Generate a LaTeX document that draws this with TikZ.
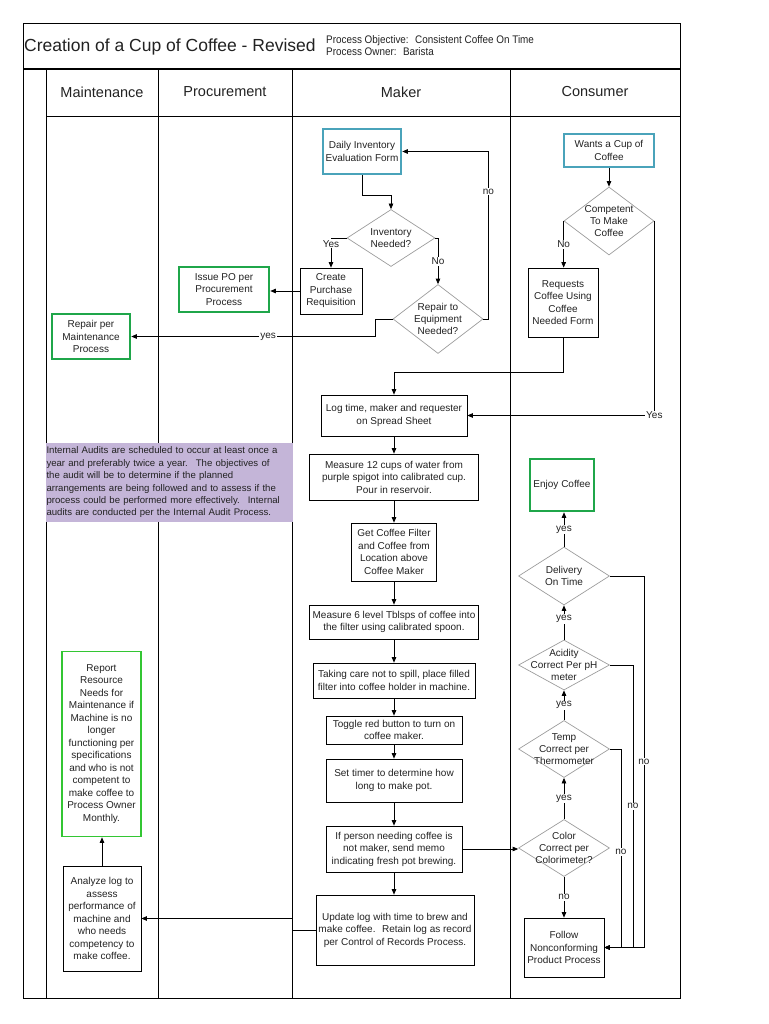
\documentclass[tikz,border=0pt]{standalone}
\usepackage{fontspec}
\setmainfont{Liberation Sans}
\newfontfamily\narrowfont[FakeStretch=0.9]{Liberation Sans}
\usetikzlibrary{arrows.meta,shapes.geometric}
\definecolor{tealline}{HTML}{4AA3BA}
\definecolor{greenline}{HTML}{1FA64A}
\definecolor{limeline}{HTML}{33C633}
\definecolor{auditfill}{HTML}{C4B5D8}
\definecolor{diagray}{HTML}{9C9C9C}
\definecolor{inkgray}{HTML}{222222}

\begin{document}
\begin{tikzpicture}[x=1pt,y=1pt]
              \tikzstyle{every node}+=[inner sep=0pt, text=inkgray]
              \tikzstyle{box}=[draw=black, line width=0.7pt, align=center, font=\fontsize{10}{12.5}\selectfont]
              \tikzstyle{tealbox}=[box, draw=tealline, line width=2.6pt]
              \tikzstyle{greenbox}=[box, draw=greenline, line width=2.6pt]
              \tikzstyle{limebox}=[box, draw=limeline, line width=1.6pt]
              \tikzstyle{dia}=[diamond, draw=diagray, line width=0.7pt, aspect=1.6]
              \tikzstyle{diatext}=[align=center, font=\fontsize{10}{12}\selectfont]
              \tikzstyle{arr}=[-{Triangle[length=5.5pt,width=4.5pt]}, black, line width=0.7pt]
              \tikzstyle{lbl}=[fill=white, inner sep=1pt, font=\fontsize{10}{12}\selectfont]
              \useasboundingbox (0,0) rectangle (768,-1024);
              % frame and lanes
              \draw [black, line width=0.8pt] (23,-23) rectangle (680,-998);
              \draw [black, line width=1.8pt] (23,-69) -- (680,-69);
              \draw [black, line width=0.8pt] (46,-116) -- (680,-116);
              \foreach \lx in {46,158,292,510}
                \draw [black, line width=0.8pt] (\lx,-69) -- (\lx,-998);
              \node [anchor=west, font=\fontsize{17.5}{20}\selectfont] (title) at (24,-46.5) {Creation of a Cup of Coffee - Revised};
              \node [anchor=west, align=left, font=\narrowfont\fontsize{11}{12}\selectfont] (objective) at (326,-46) {Process Objective:~ Consistent Coffee On Time\\Process Owner:~ Barista};
              \foreach \lname/\lx in {Maintenance/102, Procurement/225, Maker/401, Consumer/595}
                \node [font=\fontsize{14.5}{16}\selectfont] (head-\lname) at (\lx,-92) {\lname};
              % maker lane, top
              \node [tealbox, minimum width=78, minimum height=45] (daily) at (362,-151.5) {Daily Inventory\\Evaluation Form};
              \node [dia, minimum width=88, minimum height=57, label={[diatext]center:Inventory\\Needed?}] (inv) at (391,-238) {};
              \node [box, minimum width=62, minimum height=46] (creq) at (331,-291) {Create\\Purchase\\Requisition};
              \node [dia, minimum width=90, minimum height=69, label={[diatext]center:Repair to\\Equipment\\Needed?}] (rep) at (438,-319) {};
              \node [greenbox, minimum width=90, minimum height=45] (issue) at (224,-289.5) {Issue PO per\\Procurement\\Process};
              \node [greenbox, minimum width=78, minimum height=45] (rmaint) at (91,-336.5) {Repair per\\Maintenance\\Process};
              % consumer lane, top
              \node [tealbox, minimum width=90, minimum height=33] (wants) at (609,-150.5) {Wants a Cup of\\Coffee};
              \node [dia, minimum width=90, minimum height=68, label={[diatext]center:Competent\\To Make\\Coffee}] (comp) at (609,-221) {};
              \node [box, minimum width=70, minimum height=69] (req) at (563,-302.5) {Requests\\Coffee Using\\Coffee\\Needed Form};
              % maker lane, steps
              \node [box, minimum width=146, minimum height=41] (log) at (394,-415.5) {Log time, maker and requester\\on Spread Sheet};
              \node [box, minimum width=169, minimum height=46] (m12) at (394,-477) {Measure 12 cups of water from\\purple spigot into calibrated cup.\\Pour in reservoir.};
              \node [box, minimum width=85, minimum height=58] (filter) at (394,-552) {Get Coffee Filter\\and Coffee from\\Location above\\Coffee Maker};
              \node [box, minimum width=169, minimum height=34] (m6) at (394,-622) {Measure 6 level Tblsps of coffee into\\the filter using calibrated spoon.};
              \node [box, minimum width=162, minimum height=35] (care) at (394,-680.5) {Taking care not to spill, place filled\\filter into coffee holder in machine.};
              \node [box, minimum width=136, minimum height=28] (toggle) at (394,-730) {Toggle red button to turn on\\coffee maker.};
              \node [box, minimum width=136, minimum height=43] (timer) at (394,-780.5) {Set timer to determine how\\long to make pot.};
              \node [box, minimum width=136, minimum height=46] (memo) at (394,-849) {If person needing coffee is\\not maker, send memo\\indicating fresh pot brewing.};
              \node [box, minimum width=158, minimum height=70] (upd) at (395,-930) {Update log with time to brew and\\make coffee.~ Retain log as record\\per Control of Records Process.};
              % maintenance lane, bottom
              \node [fill=auditfill, align=left, text width=246, minimum height=79, inner sep=0.5pt, font=\fontsize{9.6}{12.4}\selectfont] (audit) at (169.5,-482.5) {\hyphenpenalty=10000 Internal Audits are scheduled to occur at least once a\\year and preferably twice a year.~ The objectives of\\the audit will be to determine if the planned\\arrangements are being followed and to assess if the\\process could be performed more effectively.~ Internal\\audits are conducted per the Internal Audit Process.};
              \node [limebox, minimum width=79, minimum height=185] (report) at (101.5,-744) {Report\\Resource\\Needs for\\Maintenance if\\Machine is no\\longer\\functioning per\\specifications\\and who is not\\competent to\\make coffee to\\Process Owner\\Monthly.};
              \node [box, minimum width=78, minimum height=105] (analyze) at (102,-918.5) {Analyze log to\\assess\\performance of\\machine and\\who needs\\competency to\\make coffee.};
              % consumer lane, checks
              \node [greenbox, minimum width=64, minimum height=52] (enjoy) at (562,-485) {Enjoy Coffee};
              \node [dia, minimum width=91, minimum height=58, label={[diatext]center:Delivery\\On Time}] (del) at (564,-576) {};
              \node [dia, minimum width=91, minimum height=50, label={[diatext]center:Acidity\\Correct Per pH\\meter}] (acid) at (564,-665) {};
              \node [dia, minimum width=91, minimum height=57, label={[diatext]center:Temp\\Correct per\\Thermometer}] (temp) at (564,-749) {};
              \node [dia, minimum width=91, minimum height=57, label={[diatext]center:Color\\Correct per\\Colorimeter?}] (col) at (564,-848) {};
              \node [box, minimum width=80, minimum height=59] (follow) at (564,-947.5) {Follow\\Nonconforming\\Product Process};
              % connectors
              \draw [arr] (daily.south) -- ++(0,-20) -| (inv.north);
              \draw [arr] (inv.west) -| node [lbl, pos=0.6] {Yes} (creq.north);
              \draw [arr] (inv.east) -| node [lbl, pos=0.75] {No} (rep.north);
              \draw [arr] (rep.east) -- ++(5,0) |- node [lbl, pos=0.38] {no} (daily.east);
              \draw [arr] (rep.west) -- ++(-17,0) |- node [lbl, pos=0.72] {yes} (rmaint.east);
              \draw [arr] (creq.west) -- (creq.west -| issue.east);
              \draw [arr] (wants.south) -- (comp.north);
              \draw [arr] (comp.west) -- node [lbl] {No} (comp.west |- req.north);
              \draw [arr] (comp.east) |- node [lbl] {Yes} (log.east);
              \draw [arr] (req.south) -- ++(0,-35) -| (log.north);
              \draw [arr] (log.south) -- (m12.north);
              \draw [arr] (m12.south) -- (filter.north);
              \draw [arr] (filter.south) -- (m6.north);
              \draw [arr] (m6.south) -- (care.north);
              \draw [arr] (care.south) -- (toggle.north);
              \draw [arr] (toggle.south) -- (timer.north);
              \draw [arr] (timer.south) -- (memo.north);
              \draw [arr] (memo.south) -- (memo.south |- upd.north);
              \draw [arr] (memo.east) -- (memo.east -| col.west);
              \draw [arr] (upd.west) -- ++(-23,0) |- (analyze.east);
              \draw [arr] (analyze.north) -- (analyze.north |- report.south);
              \draw [arr] (del.north) -- node [lbl] {yes} (del.north |- enjoy.south);
              \draw [arr] (acid.north) -- node [lbl, pos=0.6] {yes} (del.south);
              \draw [arr] (temp.north) -- node [lbl] {yes} (acid.south);
              \draw [arr] (col.north) -- node [lbl] {yes} (temp.south);
              \draw [arr] (col.south) -- node [lbl] {no} (follow.north);
              \draw [arr] (temp.east) -- ++(11,0) |- node [lbl, pos=0.26] {no} (follow.east);
              \draw [arr] (acid.east) -- ++(23,0) |- node [lbl, pos=0.25] {no} (follow.east);
              \draw [arr] (del.east) -- ++(34,0) |- node [lbl, pos=0.25] {no} (follow.east);
            \end{tikzpicture}
\end{document}
